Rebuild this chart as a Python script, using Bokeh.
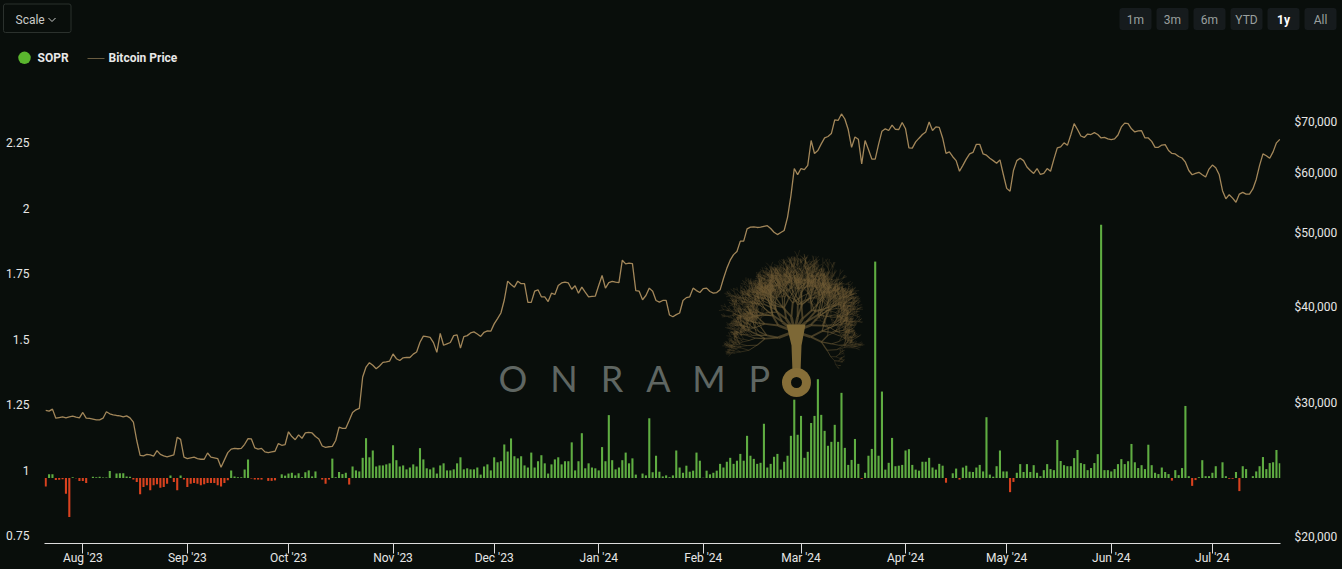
import math
import pandas as pd
from bokeh.core.properties import value
from bokeh.embed import file_html
from bokeh.resources import INLINE
from bokeh.plotting import figure
from bokeh.models import (DatetimeAxis, DatetimeTickFormatter, FixedTicker,
                          LinearAxis, LogAxis, LogScale, MonthsTicker, NumeralTickFormatter,
                          Range1d)

FIRST_DAY = "2023-07-21"

sopr = [
    .968,1.014,1.014,.992,.993,.995,.94,.851,1.003,.999,
    .989,.989,.981,1.0,1.005,1.003,1.005,1.002,1.002,1.027,
    1.0,1.017,1.018,1.018,1.006,1.005,.994,.985,.938,.966,
    .972,.953,.972,.976,.963,.966,.978,1.01,.985,.953,
    1.01,.994,.966,.978,.981,.978,.972,.976,.981,.981,
    .981,.972,.968,.981,.991,1.029,1.006,1.003,1.003,1.032,
    1.071,.998,.994,.994,.994,1.0,.989,.989,.991,1.0,
    1.014,1.009,1.017,1.02,1.01,1.018,1.003,1.022,1.029,1.006,
    1.025,1.0,.994,.978,.994,1.074,1.003,1.023,1.015,1.02,
    .975,1.044,1.029,1.025,1.077,1.152,1.079,1.105,1.044,1.048,
    1.048,1.052,1.056,1.125,1.068,1.044,1.048,1.033,1.04,1.052,
    1.044,1.114,1.071,1.037,1.033,1.04,1.017,1.048,1.056,1.029,
    1.029,1.033,1.056,1.079,1.033,1.037,1.033,1.033,1.04,1.013,
    1.044,1.052,1.029,1.079,1.06,1.064,1.128,1.101,1.151,1.083,
    1.075,1.083,1.048,1.04,1.097,1.04,1.064,1.087,1.056,1.017,
    1.052,1.071,1.079,1.052,1.064,1.064,1.136,1.029,1.064,1.171,
    1.037,1.056,1.04,1.037,1.029,1.118,1.064,1.24,1.068,1.033,
    1.04,1.068,1.097,1.056,1.075,1.013,1.0,1.017,1.01,1.228,
    1.022,1.085,1.024,1.006,1.01,1.003,1.01,1.105,1.04,1.02,
    1.047,1.024,1.028,1.097,1.066,1.001,1.028,1.014,1.02,1.028,
    1.054,1.04,1.062,1.077,1.054,1.066,1.092,1.066,1.161,1.085,
    1.073,1.054,1.058,1.207,1.04,1.054,1.081,1.092,1.032,1.062,
    1.085,1.161,1.299,1.165,1.237,1.077,1.1,1.21,1.237,1.377,
    1.241,1.18,1.123,1.138,1.203,1.138,1.325,1.115,1.05,1.069,
    1.149,1.054,.997,1.02,1.085,1.111,1.826,1.085,1.33,1.032,
    1.058,1.153,1.045,1.047,1.05,1.105,1.11,1.05,1.032,1.028,
    1.062,1.062,1.077,1.04,1.032,1.054,1.047,.982,1.0,1.018,
    1.036,.994,1.04,1.047,1.024,1.023,1.04,1.05,1.025,1.232,
    1.013,1.005,1.045,1.105,1.025,1.025,.946,.985,1.02,1.053,
    1.023,1.053,1.023,1.049,1.02,1.007,1.03,1.053,1.034,1.03,
    1.145,1.065,1.049,1.045,1.045,1.076,1.107,1.057,1.053,1.03,
    1.038,1.057,1.091,1.967,1.03,1.03,1.025,1.034,1.053,1.072,
    1.053,1.064,1.13,1.06,1.038,1.049,1.034,1.127,1.049,1.02,
    1.015,1.04,1.023,1.015,.99,1.03,1.011,1.038,1.275,1.007,
    .97,.992,1.003,1.068,1.007,1.007,1.02,1.045,1.0,1.06,
    1.007,.997,.997,1.023,.95,1.045,1.034,1.0,1.007,1.025,
    1.045,1.08,1.034,1.057,1.06,1.107,1.056,
]

bitcoin_price = [
    29880,29820,30000,29190,29250,29310,29220,29310,29370,29280,
    29220,29700,29190,29170,29110,29050,29050,29190,29760,29580,
    29490,29430,29400,29310,29400,29220,28840,27290,26090,26060,
    26170,26130,26040,26470,26170,26060,25980,26060,26130,27560,
    27380,25950,25840,25900,25950,25840,25790,25790,26280,25950,
    25900,25840,25180,25740,26310,26590,26650,26620,26650,26980,
    27450,27420,26690,26590,26650,26370,26310,26370,26420,27040,
    26900,26960,28020,27620,27360,27760,27470,27920,27970,27920,
    27620,27420,26840,26730,26780,26810,27290,28420,28310,28310,
    28990,29700,29940,30060,33050,34060,34510,34240,33880,34170,
    34540,34600,34680,35430,34930,34740,35020,35060,35060,35420,
    35640,36710,37400,37330,37250,36670,35600,37700,36380,36530,
    36680,37450,37530,36060,37330,37450,37750,37870,37640,37360,
    37830,37980,37950,38800,39430,40100,41700,44140,43700,43350,
    44140,43800,43800,41400,41400,42820,43000,42100,42100,41500,
    42570,42400,43570,43900,44000,43900,43080,43540,42570,43350,
    42700,42100,42150,42200,43570,44900,43220,43950,44120,44000,
    43950,47020,46500,46600,46550,42900,42820,41730,42270,43220,
    42820,41640,41440,41640,41640,39850,39640,39900,40100,41640,
    42000,42100,43220,42900,42650,43160,43220,42780,42570,42650,
    43000,44500,45880,47020,47820,48280,49800,49800,51680,51960,
    52000,51900,51960,52080,52180,51740,51160,50800,51120,51430,
    53520,57100,62000,60870,62000,61800,62600,67480,64880,65470,
    66800,68000,68300,68900,71800,71680,73100,72000,69750,66100,
    68200,67740,62880,67480,65670,63800,63800,66700,69400,69900,
    69550,70700,69800,69750,71250,69900,66000,65950,67200,67950,
    68700,69250,71350,69550,70300,70200,68000,64900,65200,64250,
    63500,61500,62600,63800,64800,65100,66700,66700,64800,64550,
    63950,63500,63000,63650,60900,58400,57900,61640,63500,63950,
    63500,62300,61640,61100,62000,60900,61100,62000,61500,63800,
    66000,66200,67000,66500,68600,71000,69750,68400,68100,68800,
    68700,69100,68700,68000,68100,67800,67650,67800,68600,70300,
    71100,71000,69900,69250,69450,69500,68000,68000,67300,66100,
    66100,66550,66650,65470,64900,64800,64300,64000,63200,61640,
    60850,61100,61300,60850,60450,61900,62650,62150,60900,58000,
    56600,57300,56700,56000,57400,57700,57400,57400,58300,60000,
    62600,64800,64450,63950,65200,67000,67700,
]

sopr_ticks = [0.75, 1, 1.25, 1.5, 1.75, 2, 2.25]
sopr_tick_labels = ["0.75", "1", "1.25", "1.5", "1.75", "2", "2.25"]
price_ticks = [20000, 30000, 40000, 50000, 60000, 70000]
range_buttons = ["1m", "3m", "6m", "YTD", "1y", "All"]

BG = "#090e0b"
FONT = "Roboto"
TXT = "#e6e6e6"

# layout (absolute page pixels)
W, H = 1342, 569
HEAD = 70              # header strip with menu, legend, range buttons
FL, FR, FT, FB = 44, 1280, HEAD, 543
PX_SOPR = 262.0        # pixels per SOPR unit
PX_LOG = 331.4         # pixels per ln(price)

sopr_lo = 0.75
sopr_hi = sopr_lo + (FB - FT) / PX_SOPR
price_lo = 20000.0
price_hi = price_lo * math.exp((FB - FT) / PX_LOG)

day_ms = 86400000
aug1 = pd.Timestamp("2023-08-01")
x_start = aug1 - pd.Timedelta(days=11.36)
x_end = aug1 + pd.Timedelta(days=355.2)

p = figure(width=W, height=H - HEAD, output_backend="svg", toolbar_location=None,
           x_axis_type=None, y_axis_type=None,
           x_range=Range1d(x_start, x_end), y_range=Range1d(sopr_lo, sopr_hi),
           background_fill_color=None, border_fill_color=None,
           min_border_left=FL, min_border_right=W - FR, min_border_top=0, min_border_bottom=H - FB,
           outline_line_color=None)
p.styles = {"position": "absolute", "left": "0px", "top": f"{HEAD}px", "background-color": BG}
p.grid.visible = False

p.extra_y_ranges["price"] = Range1d(price_lo, price_hi)
p.extra_y_scales["price"] = LogScale()
# axes only for the labels: same scale, moved so each label sits just above its level
lift_s = 8 / PX_SOPR
lift_p = math.exp(-6.5 / PX_LOG)
p.extra_y_ranges["sopr_lbl"] = Range1d(sopr_lo - lift_s, sopr_hi - lift_s)
p.extra_y_ranges["price_lbl"] = Range1d(price_lo * lift_p, price_hi * lift_p)
p.extra_y_scales["price_lbl"] = LogScale()
# pixel space for the watermark
p.extra_x_ranges["px"] = Range1d(FL, FR)
p.extra_y_ranges["py"] = Range1d(FB, FT)


def style_y(ax):
    ax.axis_line_color = None
    ax.major_tick_line_color = None
    ax.minor_tick_line_color = None
    ax.major_tick_out = 0
    ax.major_tick_in = 0
    ax.major_label_text_color = TXT
    ax.major_label_text_font = FONT
    ax.major_label_text_font_size = "12px"


left = LinearAxis(y_range_name="sopr_lbl", ticker=FixedTicker(ticks=sopr_ticks),
                  major_label_overrides=dict(zip(sopr_ticks, sopr_tick_labels)))
style_y(left)
left.major_label_standoff = 15
p.add_layout(left, "left")

right = LogAxis(y_range_name="price_lbl", ticker=FixedTicker(ticks=price_ticks),
                formatter=NumeralTickFormatter(format="$0,0"))
style_y(right)
right.major_label_standoff = 14
p.add_layout(right, "right")

xax = DatetimeAxis(ticker=MonthsTicker(months=list(range(12))),
                   formatter=DatetimeTickFormatter(months="%b '%y", days="%b '%y", context=None))
xax.axis_line_color = "#dcdcdc"
xax.major_tick_line_color = "#dcdcdc"
xax.minor_tick_line_color = None
xax.major_tick_out = 10
xax.major_tick_in = 0
xax.major_label_standoff = -3
xax.major_label_text_color = TXT
xax.major_label_text_font = FONT
xax.major_label_text_font_size = "12px"
p.add_layout(xax, "below")


# ---- watermark: tree, ring, word ----
tree_x, tree_y, tree_w = [], [], []
TREE_ROOT_X, TREE_ROOT_Y = 794, 331
TREE_STRETCH_X, TREE_STRETCH_Y = 1.15, 1.1


def wobble(k):
    s = math.sin(k * 12.9898) * 43758.5453
    return s - math.floor(s) - 0.5


def grow(x, y, ang, ln, w, depth, key):
    x2 = x + ln * math.sin(ang)
    y2 = y - ln * math.cos(ang)
    tree_x.append([TREE_ROOT_X + (x - TREE_ROOT_X) * TREE_STRETCH_X, TREE_ROOT_X + (x2 - TREE_ROOT_X) * TREE_STRETCH_X])
    tree_y.append([TREE_ROOT_Y + (y - TREE_ROOT_Y) * TREE_STRETCH_Y, TREE_ROOT_Y + (y2 - TREE_ROOT_Y) * TREE_STRETCH_Y])
    tree_w.append(w)
    if depth == 0:
        return
    n = 2 if depth % 3 else 3
    for c in range(n):
        k = key * 3 + c + 1
        spread = (c - (n - 1) / 2) * 0.62 + 0.7 * wobble(k)
        grow(x2, y2, ang * 0.84 + spread, ln * (0.80 + 0.3 * wobble(k + 7)), max(w * 0.68, 0.4), depth - 1, k % 100003)


for i, a in enumerate([-1.95, -1.2, -0.88, -0.56, -0.2, 0.2, 0.54, 0.86, 1.18, 1.9]):
    grow(TREE_ROOT_X, TREE_ROOT_Y, a, 13.5 if abs(a) < 0.9 else 15, 2.8, 7, i + 5)

WM = dict(x_range_name="px", y_range_name="py")
p.multi_line(tree_x, tree_y, line_width=tree_w, line_color="#6e5c37", line_alpha=0.62, **WM)
p.patch([786, 805, 801, 800, 792, 791], [324, 324, 345, 372, 372, 345], fill_color="#7d6836", line_color=None, **WM)
p.scatter(x=[796], y=[382], size=29, marker="circle", fill_color="#866e38", line_color=None, **WM)
p.scatter(x=[796], y=[382], size=11, marker="circle", fill_color=BG, line_color=None, **WM)
GAP = "\u00a0\u00a0\u200a\u200a"
p.text(x=[498], y=[377], text=[GAP.join("ONRAMP")], text_color="#5f6662", text_font=value("Lato"),
       text_font_size="36px", text_align="left", text_baseline="middle", **WM)

# ---- series ----
dates = pd.date_range(FIRST_DAY, periods=len(sopr), freq="D")
up_d = [d for d, v in zip(dates, sopr) if v >= 1]
up_v = [v for v in sopr if v >= 1]
dn_d = [d for d, v in zip(dates, sopr) if v < 1]
dn_v = [v for v in sopr if v < 1]
BAR_W = 0.62 * day_ms
p.vbar(x=up_d, top=up_v, bottom=1, width=BAR_W, fill_color="#5fad42", line_color=None)
p.vbar(x=dn_d, top=1, bottom=dn_v, width=BAR_W, fill_color="#d9421f", line_color=None)

price_dates = pd.date_range(FIRST_DAY, periods=len(bitcoin_price), freq="D")
p.line(price_dates, bitcoin_price, y_range_name="price", line_color="#a3875a", line_width=1.3)

# ---- header: scale menu, legend, range buttons ----
h = figure(width=W, height=HEAD, output_backend="svg", toolbar_location=None,
           x_axis_type=None, y_axis_type=None,
           x_range=Range1d(0, W), y_range=Range1d(HEAD, 0),
           background_fill_color=None, border_fill_color=None,
           min_border_left=0, min_border_right=0, min_border_top=0, min_border_bottom=0,
           outline_line_color=None)
h.styles = {"position": "absolute", "left": "0px", "top": "0px", "background-color": BG}
h.grid.visible = False


def lab(text, X, Y, color=TXT, style="normal", align="left"):
    h.text(x=[X], y=[Y], text=[text], text_color=color, text_font=value(FONT), text_font_size="12px",
           text_font_style=style, text_align=align, text_baseline="middle")


h.quad(left=[3], right=[70.5], top=[3.5], bottom=[32], fill_color=BG, line_color="#2b312d", border_radius=2)
lab("Scale", 15, 19, color="#c9cbc9")
h.line([48, 51.5, 55], [17.5, 21, 17.5], line_color="#c9cbc9", line_width=1)

h.scatter(x=[24], y=[57.3], size=12.5, marker="circle", fill_color="#5ab52e", line_color=None)
lab("SOPR", 37, 57.5, color="#e8e8e8", style="bold")
h.line([87, 104], [58, 58], line_color="#6a5c41", line_width=1.2)
lab("Bitcoin Price", 108, 57.5, color="#e8e8e8", style="bold")

for i, t in enumerate(range_buttons):
    x0 = 1119 + i * 37
    h.quad(left=[x0], right=[x0 + 32], top=[7.5], bottom=[29.5], fill_color="#161b1d", line_color=None, border_radius=3)
    on = t == "1y"
    lab(t, x0 + 16, 19, color="#ffffff" if on else "#9aa09f", style="bold" if on else "normal", align="center")

html = file_html([h, p], INLINE)
open("out.html", "w").write(html)
